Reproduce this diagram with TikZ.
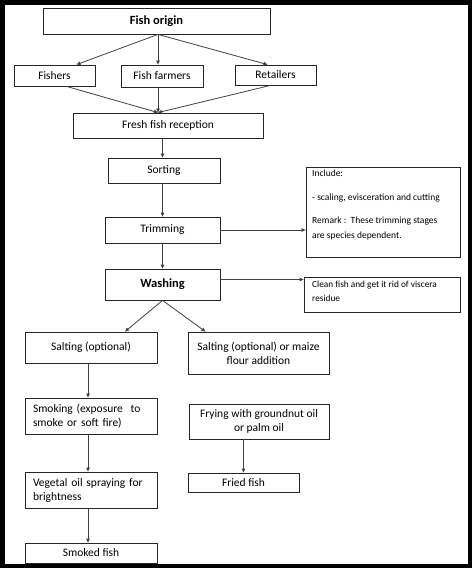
\documentclass[tikz,border=0pt]{standalone}
\usepackage{fontspec}
\setmainfont{Carlito}
\usetikzlibrary{arrows.meta}
\begin{document}
\begin{tikzpicture}[x=1pt,y=-1pt,
  box/.style={draw=black!85,line width=0.8pt,rectangle,inner sep=1pt,font=\fontsize{11.5}{14}\selectfont},
  conn/.style={draw=black!75,line width=0.8pt,-{Triangle[length=4pt,width=3.5pt]}},
  plain/.style={draw=black!75,line width=0.8pt}]
\useasboundingbox (0,0) rectangle (474,569);
\draw[line width=4.5pt] (2.5,2.5) rectangle (470,566);
\node[box,minimum width=227pt,minimum height=26pt,font=\bfseries\fontsize{12.5}{14}\selectfont] (origin) at (156.5,21) {Fish origin};
\node[box,minimum width=81pt,minimum height=21pt] (fishers) at (54.5,75.5) {Fishers};
\node[box,minimum width=82pt,minimum height=22pt] (farmers) at (162,76) {Fish farmers};
\node[box,minimum width=81pt,minimum height=20pt] (retailers) at (275.5,75) {Retailers};
\node[box,minimum width=190pt,minimum height=25pt] (reception) at (168,125.5) {Fresh fish reception};
\node[box,minimum width=112pt,minimum height=25pt] (sorting) at (164,170.5) {Sorting};
\node[box,minimum width=115pt,minimum height=26pt] (trimming) at (162.5,230) {Trimming};
\node[box,minimum width=115pt,minimum height=31pt,font=\bfseries\fontsize{12.5}{14}\selectfont] (washing) at (162.5,284.5) {Washing};
\node[box,minimum width=154pt,minimum height=90pt] (include) at (383,212) {};
\node[anchor=north west,inner sep=0pt,align=left,font=\fontsize{9.5}{15}\selectfont] (inctext) at (312,170)
  {Include:\\[9pt]- scaling, evisceration and cutting\\[8pt]Remark :\ \ These trimming stages\\are species dependent.};
\node[box,minimum width=156pt,minimum height=35pt] (clean) at (382,294.5) {};
\node[anchor=north west,inner sep=0pt,align=left,font=\fontsize{9.3}{13.5}\selectfont] (cleantext) at (312,281)
  {Clean fish and get it rid of viscera\\residue};
\node[box,minimum width=132pt,minimum height=31pt] (salt1) at (91,347.5) {Salting (optional)};
\node[box,minimum width=141pt,minimum height=42pt,align=center] (salt2) at (258.5,353) {Salting (optional) or maize\\flour addition};
\node[box,minimum width=132pt,minimum height=36pt,align=left,text width=116pt] (smoking) at (91,416) {Smoking (exposure\ \ to\\smoke or soft fire)};
\node[box,minimum width=140pt,minimum height=35pt,align=center] (frying) at (259,421.5) {Frying with groundnut oil\\or palm oil};
\node[box,minimum width=132pt,minimum height=36pt,align=left,text width=116pt] (vegetal) at (91,490) {Vegetal oil spraying for\\brightness};
\node[box,minimum width=111pt,minimum height=19pt] (fried) at (243.5,482.5) {Fried fish};
\node[box,minimum width=132pt,minimum height=20pt] (smoked) at (91,553) {Smoked fish};
% connectors
\draw[conn] ([xshift=1.5pt]origin.south) -- ([xshift=22pt]fishers.north);
\draw[conn] ([xshift=1.5pt]origin.south) -- ([xshift=-4pt]farmers.north);
\draw[conn] ([xshift=1.5pt]origin.south) -- ([xshift=-8pt]retailers.north);
\draw[conn] ([xshift=12pt]fishers.south) -- ([xshift=-10pt]reception.north);
\draw[conn] ([xshift=-4pt]farmers.south) -- ([xshift=-10pt]reception.north);
\draw[conn] ([xshift=-5pt]retailers.south) -- ([xshift=-10pt]reception.north);
\draw[conn] (reception.south -| trimming.north) -- (sorting.north -| trimming.north);
\draw[conn] (sorting.south -| trimming.north) -- (trimming.north);
\draw[conn] (trimming.south) -- (washing.north);
\draw[conn] (trimming.east) -- (trimming.east -| include.west);
\draw[conn] ([yshift=5pt]washing.east) -- ([yshift=5pt]washing.east -| clean.west);
\draw[conn] (washing.south) -- ([xshift=34pt]salt1.north);
\draw[conn] (washing.south) -- ([xshift=-53pt]salt2.north);
\draw[conn] ([xshift=-3pt]salt1.south) -- ([xshift=-3pt]smoking.north);
\draw[conn] ([xshift=-3pt]smoking.south) -- ([xshift=-3pt]vegetal.north);
\draw[conn] ([xshift=-3pt]vegetal.south) -- ([xshift=-3pt]smoked.north);
\draw[conn] (frying.south -| fried.north) -- (fried.north);
\end{tikzpicture}
\end{document}
